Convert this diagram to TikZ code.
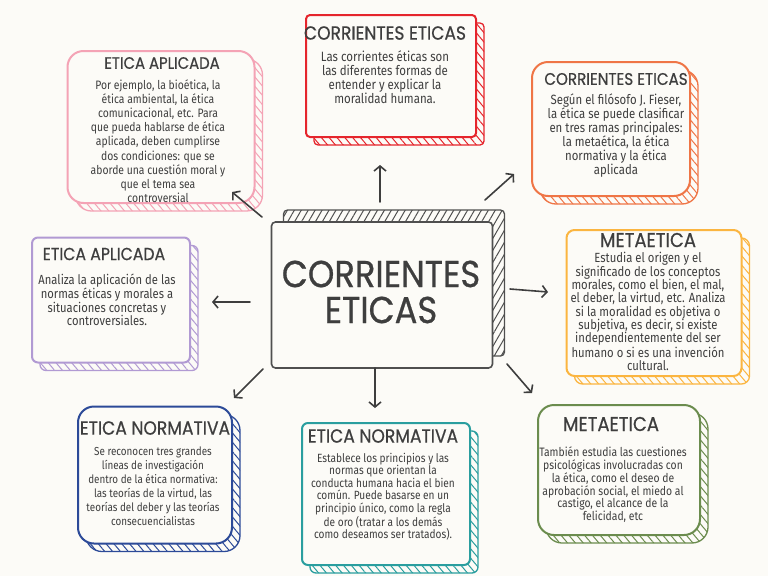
\documentclass[tikz,border=0pt]{standalone}
\usepackage{fontspec}
\setmainfont{Fira Sans}[FakeStretch=0.85]
\newfontfamily\titlefont{Poppins}[FakeStretch=0.9,FakeBold=0.6]
\usetikzlibrary{positioning,arrows.meta,patterns.meta,shadows}

\definecolor{paper}{HTML}{FCFBF7}
\definecolor{ink}{HTML}{3E3E3E}
\definecolor{cpink}{HTML}{F4A3B5}
\definecolor{cred}{HTML}{E5252C}
\definecolor{corange}{HTML}{EF7546}
\definecolor{clav}{HTML}{B19AD3}
\definecolor{cyellow}{HTML}{FBB540}
\definecolor{cblue}{HTML}{2C4A98}
\definecolor{cteal}{HTML}{2A9E9F}
\definecolor{cgreen}{HTML}{6B8C4E}
\definecolor{cdark}{HTML}{4F4F4F}

\tikzset{
  card/.style={draw=#1, line width=2pt, rounded corners=16pt, fill=paper, inner sep=0pt,
    copy shadow={shadow xshift=8pt, shadow yshift=-8pt, draw=#1, line width=1.3pt,
      pattern={Lines[angle=-50,distance=6pt,line width=1pt]}, pattern color=#1}},
  cardtitle/.style={font=\titlefont\fontsize{#1}{#1}\selectfont, text=ink, inner sep=0pt},
  cardtext/.style={text=ink, align=center, inner sep=0pt},
  link/.style={draw=ink, line width=1.6pt, line cap=round, -{Straight Barb[length=5pt,width=12pt]}},
}

\begin{document}
\begin{tikzpicture}[x=1pt,y=-1pt]
  \fill[paper] (0,0) rectangle (768,576);
  \useasboundingbox (0,0) rectangle (768,576);

  % centre
  \node[draw=cdark, line width=1.6pt, rounded corners=4pt, fill=paper, minimum width=221pt, minimum height=146pt,
    copy shadow={shadow xshift=12pt, shadow yshift=12pt, draw=cdark, line width=1.3pt,
      pattern={Lines[angle=60,distance=6pt,line width=1pt]}, pattern color=cdark}]
    (mainbox) at (382,295) {};
  \node[font=\titlefont\fontsize{37.5}{36}\selectfont, text=ink, align=center] (maintitle) at (381,292) {CORRIENTES\\ETICAS};

  % top left
  \node[card=cpink, minimum width=187pt, minimum height=152pt] (pinkbox) at (161,127) {};
  \node[cardtitle=16.5] (pinktitle) at (162,63) {ETICA APLICADA};
  \node[cardtext, font=\fontsize{12.2}{14.2}\selectfont, below=10pt of pinktitle, xshift=-4pt] (pinktext) {Por ejemplo, la bioética, la\\ética ambiental, la ética\\comunicacional, etc. Para\\que pueda hablarse de ética\\aplicada, deben cumplirse\\dos condiciones: que se\\aborde una cuestión moral y\\que el tema sea\\controversial};

  % top
  \node[card=cred, rounded corners=4pt, minimum width=170pt, minimum height=122pt] (redbox) at (391,76) {};
  \node[cardtitle=19] (redtitle) at (385,33) {CORRIENTES ETICAS};
  \node[cardtext, font=\fontsize{13.5}{13.9}\selectfont, below=11pt of redtitle] (redtext) {Las corrientes éticas son\\las diferentes formas de\\entender y explicar la\\moralidad humana.};

  % top right
  \node[card=corange, minimum width=158pt, minimum height=134pt] (orangebox) at (611,129) {};
  \node[cardtitle=16.8] (orangetitle) at (616,79) {CORRIENTES ETICAS};
  \node[cardtext, font=\fontsize{13.4}{14}\selectfont, below=8pt of orangetitle] (orangetext) {Según el filósofo J. Fieser,\\la ética se puede clasificar\\en tres ramas principales:\\la metaética, la ética\\normativa y la ética\\aplicada};

  % left
  \node[card=clav, rounded corners=6pt, minimum width=158pt, minimum height=125pt] (lavbox) at (111,300) {};
  \node[cardtitle=17.5] (lavtitle) at (104,254) {ETICA APLICADA};
  \node[cardtext, font=\fontsize{13.2}{13.9}\selectfont, below=13pt of lavtitle, xshift=3pt] (lavtext) {Analiza la aplicación de las\\normas éticas y morales a\\situaciones concretas y\\controversiales.};

  % right
  \node[card=cyellow, rounded corners=8pt, minimum width=175pt, minimum height=146pt] (yellowbox) at (654,303) {};
  \node[cardtitle=20] (yellowtitle) at (648,240) {METAETICA};
  \node[cardtext, font=\fontsize{13.3}{13.3}\selectfont, below=5pt of yellowtitle] (yellowtext) {Estudia el origen y el\\significado de los conceptos\\morales, como el bien, el mal,\\el deber, la virtud, etc. Analiza\\si la moralidad es objetiva o\\subjetiva, es decir, si existe\\independientemente del ser\\humano o si es una invención\\cultural.};

  % bottom left
  \node[card=cblue, minimum width=154pt, minimum height=137pt] (bluebox) at (155,475) {};
  \node[cardtitle=19] (bluetitle) at (155,428) {ETICA NORMATIVA};
  \node[cardtext, font=\fontsize{11.6}{13.9}\selectfont, below=12pt of bluetitle, xshift=-2pt] (bluetext) {Se reconocen tres grandes\\líneas de investigación\\dentro de la ética normativa:\\las teorías de la virtud, las\\teorías del deber y las teorías\\consecuencialistas};

  % bottom
  \node[card=cteal, rounded corners=6pt, minimum width=168pt, minimum height=142pt] (tealbox) at (386,494) {};
  \node[cardtitle=19] (tealtitle) at (383,436) {ETICA NORMATIVA};
  \node[cardtext, font=\fontsize{11.9}{12.5}\selectfont, below=10pt of tealtitle] (tealtext) {Establece los principios y las\\normas que orientan la\\conducta humana hacia el bien\\común. Puede basarse en un\\principio único, como la regla\\de oro (tratar a los demás\\como deseamos ser tratados).};

  % bottom right
  \node[card=cgreen, minimum width=162pt, minimum height=130pt] (greenbox) at (619,470) {};
  \node[cardtitle=20] (greentitle) at (611,424) {METAETICA};
  \node[cardtext, font=\fontsize{12.2}{12.9}\selectfont, below=15pt of greentitle, xshift=2pt] (greentext) {También estudia las cuestiones\\psicológicas involucradas con\\la ética, como el deseo de\\aprobación social, el miedo al\\castigo, el alcance de la\\felicidad, etc};

  % arrows
  \coordinate (upfrom) at (380,202);   \coordinate (upto) at (380,165);
  \coordinate (urfrom) at (485,200);   \coordinate (urto) at (514,174);
  \coordinate (ulfrom) at (262,217);   \coordinate (ulto) at (232,192);
  \coordinate (lfrom) at (250,302);    \coordinate (lto) at (212,302);
  \coordinate (rfrom) at (510,289);    \coordinate (rto) at (548,292);
  \coordinate (drfrom) at (507,364);   \coordinate (drto) at (532,393);
  \coordinate (dfrom) at (375,368);    \coordinate (dto) at (375,408);
  \coordinate (dlfrom) at (263,369);   \coordinate (dlto) at (234,398);
  \draw[link] (upfrom) -- (upto);
  \draw[link] (urfrom) -- (urto);
  \draw[link] (ulfrom) -- (ulto);
  \draw[link] (lfrom) -- (lto);
  \draw[link] (rfrom) -- (rto);
  \draw[link] (drfrom) -- (drto);
  \draw[link] (dfrom) -- (dto);
  \draw[link] (dlfrom) -- (dlto);
\end{tikzpicture}
\end{document}
